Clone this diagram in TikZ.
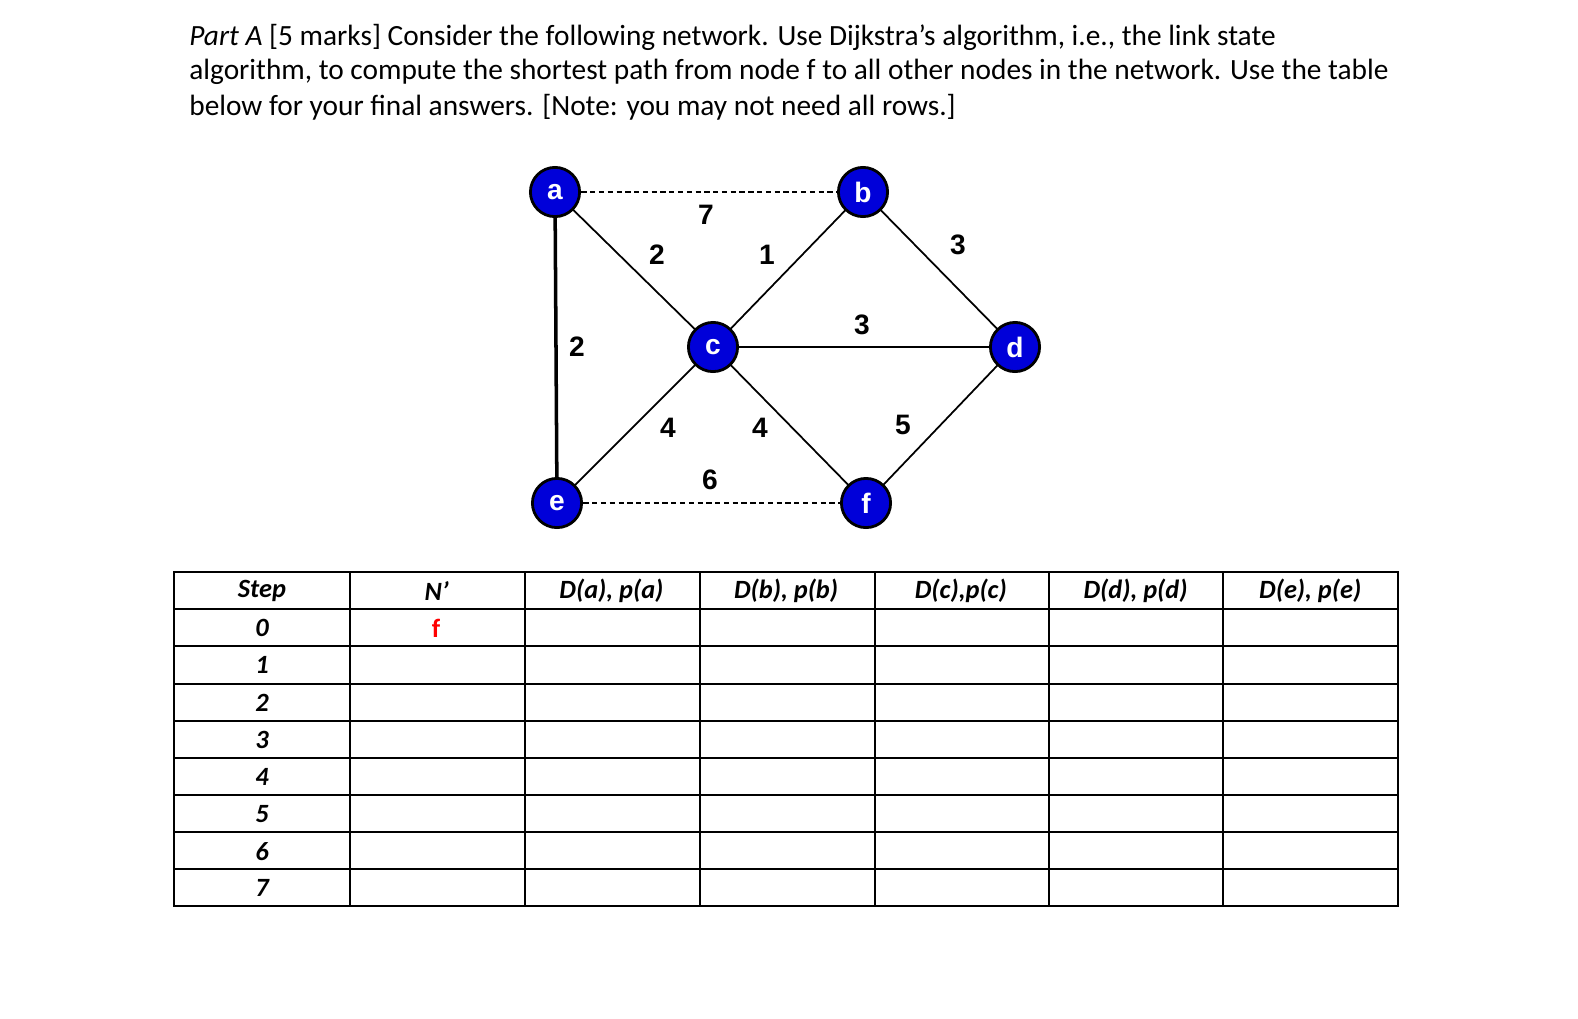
\documentclass[tikz,border=0pt]{standalone}
\usepackage{fontspec}
\setmainfont{Carlito}
\newfontfamily\arial{Liberation Sans}
\begin{document}
\begin{tikzpicture}[x=0.02cm,y=-0.02cm,
  nd/.style={circle,draw=black,line width=1.6pt,fill=blue!85!black,minimum size=28pt,inner sep=0pt,text=white,font=\arial\bfseries\fontsize{16}{16}\selectfont},
  wl/.style={font=\arial\bfseries\fontsize{16}{16}\selectfont},
  ed/.style={line width=1pt},
  txt/.style={anchor=west,inner sep=0pt,font=\fontsize{16.7}{19}\selectfont},
  th/.style={font=\bfseries\itshape\fontsize{15}{18}\selectfont}]
\useasboundingbox (0,0) rectangle (1578,1018);
\node[txt] (l1) at (189,37) {\textit{Part A} [5 marks] Consider the following network. Use Dijkstra’s algorithm, i.e., the link state};
\node[txt] (l2) at (189,72) {algorithm, to compute the shortest path from node f to all other nodes in the network. Use the table};
\node[txt] (l3) at (189,107) {below for your final answers. [Note: you may not need all rows.]};
\coordinate (pa) at (555,192); \coordinate (pb) at (863,192); \coordinate (pc) at (713,347);
\coordinate (pd) at (1015,347); \coordinate (pe) at (557,503); \coordinate (pf) at (866,503);
\draw[ed,densely dashed] (pa) -- (pb);
\draw[ed,densely dashed] (pe) -- (pf);
\draw[line width=2pt] (pa) -- (pe);
\draw[ed] (pa) -- (pc); \draw[ed] (pb) -- (pc); \draw[ed] (pb) -- (pd);
\draw[ed] (pc) -- (pd); \draw[ed] (pc) -- (pe); \draw[ed] (pc) -- (pf); \draw[ed] (pf) -- (pd);
\node[nd] (a) at (pa) {a}; \node[nd] (b) at (pb) {b}; \node[nd] (c) at (pc) {c};
\node[nd] (d) at (pd) {d}; \node[nd] (e) at (pe) {e}; \node[nd] (f) at (pf) {f};
\node[wl] (w1) at (706,215) {7}; \node[wl] (w2) at (657,255) {2}; \node[wl] (w3) at (767,255) {1};
\node[wl] (w4) at (958,245) {3}; \node[wl] (w5) at (577,347) {2}; \node[wl] (w6) at (862,325) {3};
\node[wl] (w7) at (668,428) {4}; \node[wl] (w8) at (760,428) {4}; \node[wl] (w9) at (903,425) {5};
\node[wl] (w10) at (710,480) {6};
% table
\draw[line width=1.1pt] (174,572) rectangle (1398,906);
\foreach \x in {350,525,700,875,1049,1223} \draw[line width=1.1pt] (\x,572) -- (\x,906);
\foreach \y in {609,646,684,721,758,795,832,869} \draw[line width=1.1pt] (174,\y) -- (1398,\y);
\foreach \t [count=\i from 0] in {Step,N’,{D(a), p(a)},{D(b), p(b)},{D(c),p(c)},{D(d), p(d)},{D(e), p(e)}}
  \node[th] (h\i) at ({262+174.7*\i},591) {\t};
\foreach \s [count=\i from 0] in {0,...,7}
  \node[th] (s\i) at (262,{628+37.2*\i}) {\s};
\node[text=red,font=\bfseries\fontsize{15}{18}\selectfont] (nf) at (436,628) {f};
\end{tikzpicture}
\end{document}
